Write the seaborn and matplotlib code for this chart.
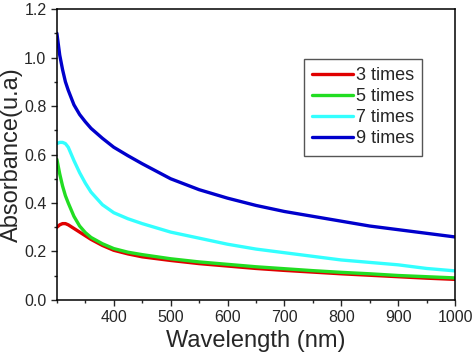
import pandas as pd
import matplotlib
matplotlib.use("Agg")
import matplotlib.pyplot as plt
import matplotlib.ticker as mtick
import seaborn as sns

wavelength = [300, 305, 310, 315, 320, 330, 340, 350, 360, 380, 400, 425, 450,
              500, 550, 600, 650, 700, 750, 800, 850, 900, 950, 1000]
abs_3 = [0.300, 0.310, 0.315, 0.315, 0.310, 0.295, 0.280, 0.265, 0.250, 0.225, 0.205, 0.190,
         0.178, 0.163, 0.150, 0.140, 0.130, 0.122, 0.115, 0.108, 0.102, 0.096, 0.090, 0.085]
abs_5 = [0.580, 0.520, 0.470, 0.430, 0.400, 0.345, 0.305, 0.278, 0.258, 0.232, 0.212, 0.197,
         0.187, 0.170, 0.157, 0.147, 0.137, 0.129, 0.121, 0.114, 0.108, 0.101, 0.096, 0.091]
abs_7 = [0.645, 0.650, 0.650, 0.645, 0.630, 0.575, 0.525, 0.482, 0.445, 0.393, 0.360, 0.335,
         0.315, 0.280, 0.255, 0.230, 0.210, 0.195, 0.180, 0.165, 0.155, 0.145, 0.130, 0.120]
abs_9 = [1.100, 1.010, 0.950, 0.900, 0.865, 0.805, 0.765, 0.735, 0.708, 0.667, 0.630, 0.595,
         0.562, 0.500, 0.455, 0.420, 0.390, 0.365, 0.345, 0.325, 0.305, 0.290, 0.275, 0.260]
series_names = ["3 times", "5 times", "7 times", "9 times"]
cores = ["#e00000", "#22dd22", "#33ffff", "#0000cc"]

df = pd.concat([
    pd.DataFrame({"wl": wavelength, "abs": vals, "serie": nome})
    for nome, vals in zip(series_names, [abs_3, abs_5, abs_7, abs_9])
])

sns.set_style("ticks")
plt.rcParams["font.family"] = ["Liberation Sans", "DejaVu Sans"]

fig = plt.figure(figsize=(4.74, 3.63), dpi=100)
ax = fig.add_axes([0.12, 0.1736, 0.84, 0.8015])
sns.lineplot(data=df, x="wl", y="abs", hue="serie", palette=cores, linewidth=2.4, ax=ax)

ax.set_xlim(300, 1000)
ax.set_ylim(0, 1.2)
ax.xaxis.set_minor_locator(mtick.MultipleLocator(50))
ax.yaxis.set_major_locator(mtick.MultipleLocator(0.2))
ax.yaxis.set_minor_locator(mtick.MultipleLocator(0.1))
ax.yaxis.set_major_formatter(mtick.FormatStrFormatter("%.1f"))
ax.set_xticks([400, 500, 600, 700, 800, 900, 1000])
ax.tick_params(which="major", length=4, width=1, labelsize=11.5, direction="out")
ax.tick_params(which="minor", length=2.5, width=1, direction="out")
for s in ax.spines.values():
    s.set_linewidth(1.1)
    s.set_color("black")
ax.set_xlabel("Wavelength (nm)", fontsize=17, labelpad=3)
ax.set_ylabel("Absorbance(u.a)", fontsize=17, labelpad=1)

leg = ax.legend(loc="upper left", bbox_to_anchor=(0.62, 0.827), fontsize=13,
                frameon=True, fancybox=False, edgecolor="#555555", framealpha=1,
                handlelength=2.3, handletextpad=0.15, labelspacing=0.22, borderpad=0.45,
                borderaxespad=0)
leg.get_frame().set_linewidth(1.0)
for l in leg.get_lines():
    l.set_linewidth(2.4)

plt.savefig("out.png", dpi=100)
plt.close()
